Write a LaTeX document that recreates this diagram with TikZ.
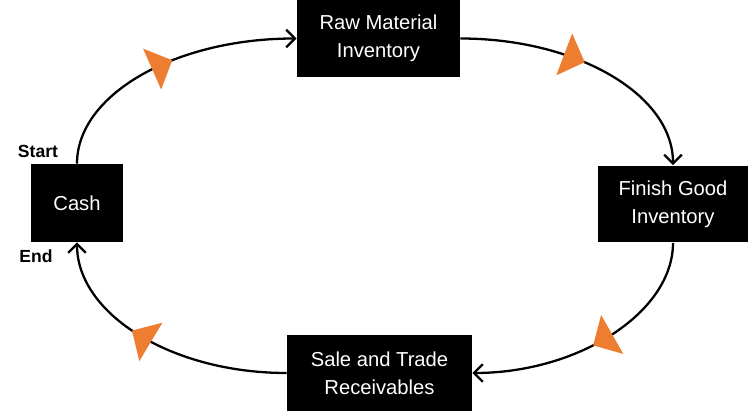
\documentclass[tikz,border=0pt]{standalone}
\usepackage{fontspec}
\setmainfont{Liberation Sans}
\usepackage{xcolor}
\usetikzlibrary{arrows.meta,decorations.markings}

\definecolor{flowOrange}{HTML}{ED7D31}

\tikzset{
    stage/.style={fill=black, text=white, align=center, inner sep=0pt,
        font=\fontsize{11.5}{16}\selectfont},
    flow/.style={line width=1.3pt, -{Straight Barb[length=5pt,width=10pt]}},
    flowmark/.style={postaction={decorate, decoration={markings,
        mark=at position #1 with {\fill[flowOrange] (6.25pt,0pt) -- (-6.25pt,12.75pt) -- (-6.25pt,-12.75pt) -- cycle;}}}},
    tag/.style={font=\fontsize{10}{12}\selectfont\bfseries}
}

\begin{document}
\begin{tikzpicture}[x=0.02cm, y=0.02cm]
    \useasboundingbox (0,0) rectangle (750,413);

    % Stages of the cycle
    \node[stage, minimum width=1.84cm, minimum height=1.56cm] (cash) at (77,210) {Cash};
    \node[stage, minimum width=3.26cm, minimum height=1.54cm] (raw) at (378.5,374.5) {Raw Material\\Inventory};
    \node[stage, minimum width=3.0cm, minimum height=1.54cm] (finish) at (673,209) {Finish Good\\Inventory};
    \node[stage, minimum width=3.7cm, minimum height=1.52cm] (sale) at (379.5,40) {Sale and Trade\\Receivables};

    % Start / End
    \node[tag] (start) at (38,262) {Start};
    \node[tag] (end) at (36,157) {End};

    % Connectors
    \draw[flow, flowmark=0.5] (cash.north) to[out=90, in=180, out looseness=0.7, in looseness=1.23] (raw.west);
    \draw[flow, flowmark=0.43] (raw.east) to[out=0, in=90, out looseness=1.2, in looseness=0.73] (finish.north);
    \draw[flow, flowmark=0.48] (finish.south) to[out=-90, in=0, out looseness=0.74, in looseness=1.14] (sale.east);
    \draw[flow, flowmark=0.56] (sale.west) to[out=180, in=-90, out looseness=1.2, in looseness=0.74] (cash.south);
\end{tikzpicture}
\end{document}
